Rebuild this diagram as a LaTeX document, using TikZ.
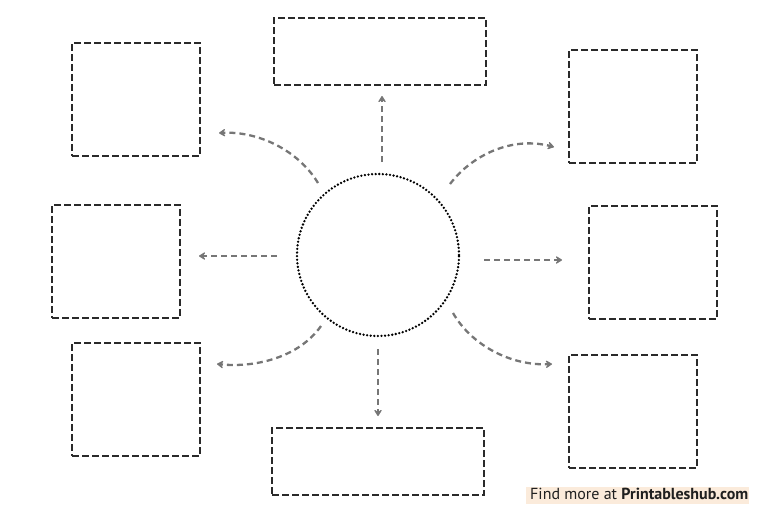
\documentclass[tikz,border=0pt]{standalone}
\usepackage{fontspec}
\setmainfont{PT Sans}
\usetikzlibrary{arrows.meta}
\definecolor{boxline}{HTML}{2A2A2A}
\definecolor{arrowgray}{HTML}{767676}
\definecolor{peach}{HTML}{FBEBDB}
\tikzset{
  dbox/.style={draw=boxline, line width=2.1pt, dash pattern=on 7pt off 3pt, inner sep=0pt, anchor=north west},
  darrow/.style={draw=arrowgray, line width=2.3pt, dash pattern=on 6pt off 4pt,
     -{Stealth[length=8pt,width=10pt,inset=3.5pt,round]}},
  hub/.style={circle, draw=black, line width=2.6pt, line cap=round, dash pattern=on 0pt off 3.6pt, minimum size=162pt, inner sep=0pt}
}
\begin{document}
\begin{tikzpicture}[x=1pt,y=-1pt]
\useasboundingbox (0,0) rectangle (768,512);
% boxes
\node[dbox, minimum width=212pt, minimum height=67pt] (bT) at (273,17) {};
\node[dbox, minimum width=128pt, minimum height=113pt] (bTL) at (71,42) {};
\node[dbox, minimum width=128pt, minimum height=113pt] (bL) at (51,204) {};
\node[dbox, minimum width=128pt, minimum height=113pt] (bBL) at (71,342) {};
\node[dbox, minimum width=212pt, minimum height=67pt] (bB) at (271,427) {};
\node[dbox, minimum width=128pt, minimum height=113pt] (bTR) at (568,49) {};
\node[dbox, minimum width=128pt, minimum height=113pt] (bR) at (588,205) {};
\node[dbox, minimum width=128pt, minimum height=113pt] (bBR) at (568,354) {};
% hub
\node[hub] (hub) at (378,255) {};
% arrow end points
\coordinate (sT) at (382,162);  \coordinate (eT) at (382,96);
\coordinate (sB) at (378,349);  \coordinate (eB) at (378,416);
\coordinate (sL) at (277,256);  \coordinate (eL) at (199,256);
\coordinate (sR) at (484,260);  \coordinate (eR) at (562,260);
\coordinate (sTL) at (318,183); \coordinate (eTL) at (219,133);
\coordinate (sTR) at (450,184); \coordinate (eTR) at (554,147);
\coordinate (sBR) at (453,313); \coordinate (eBR) at (552,364);
\coordinate (sBL) at (321,326); \coordinate (eBL) at (217,364);
\draw[darrow] (sT) -- (eT);
\draw[darrow] (sB) -- (eB);
\draw[darrow] (sL) -- (eL);
\draw[darrow] (sR) -- (eR);
\draw[darrow] (sTL) .. controls (298,150) and (258,131) .. (eTL);
\draw[darrow] (sTR) .. controls (472,155) and (512,136) .. (eTR);
\draw[darrow] (sBR) .. controls (472,346) and (512,366) .. (eBR);
\draw[darrow] (sBL) .. controls (300,356) and (258,368) .. (eBL);
% watermark
\fill[peach] (526,487) rectangle (749,504);
\node[anchor=base west, inner sep=0pt, font=\fontsize{16}{18}\selectfont, text=black!88] (wm) at (530,499) {Find more at \textbf{Printableshub.com}};
\end{tikzpicture}
\end{document}
